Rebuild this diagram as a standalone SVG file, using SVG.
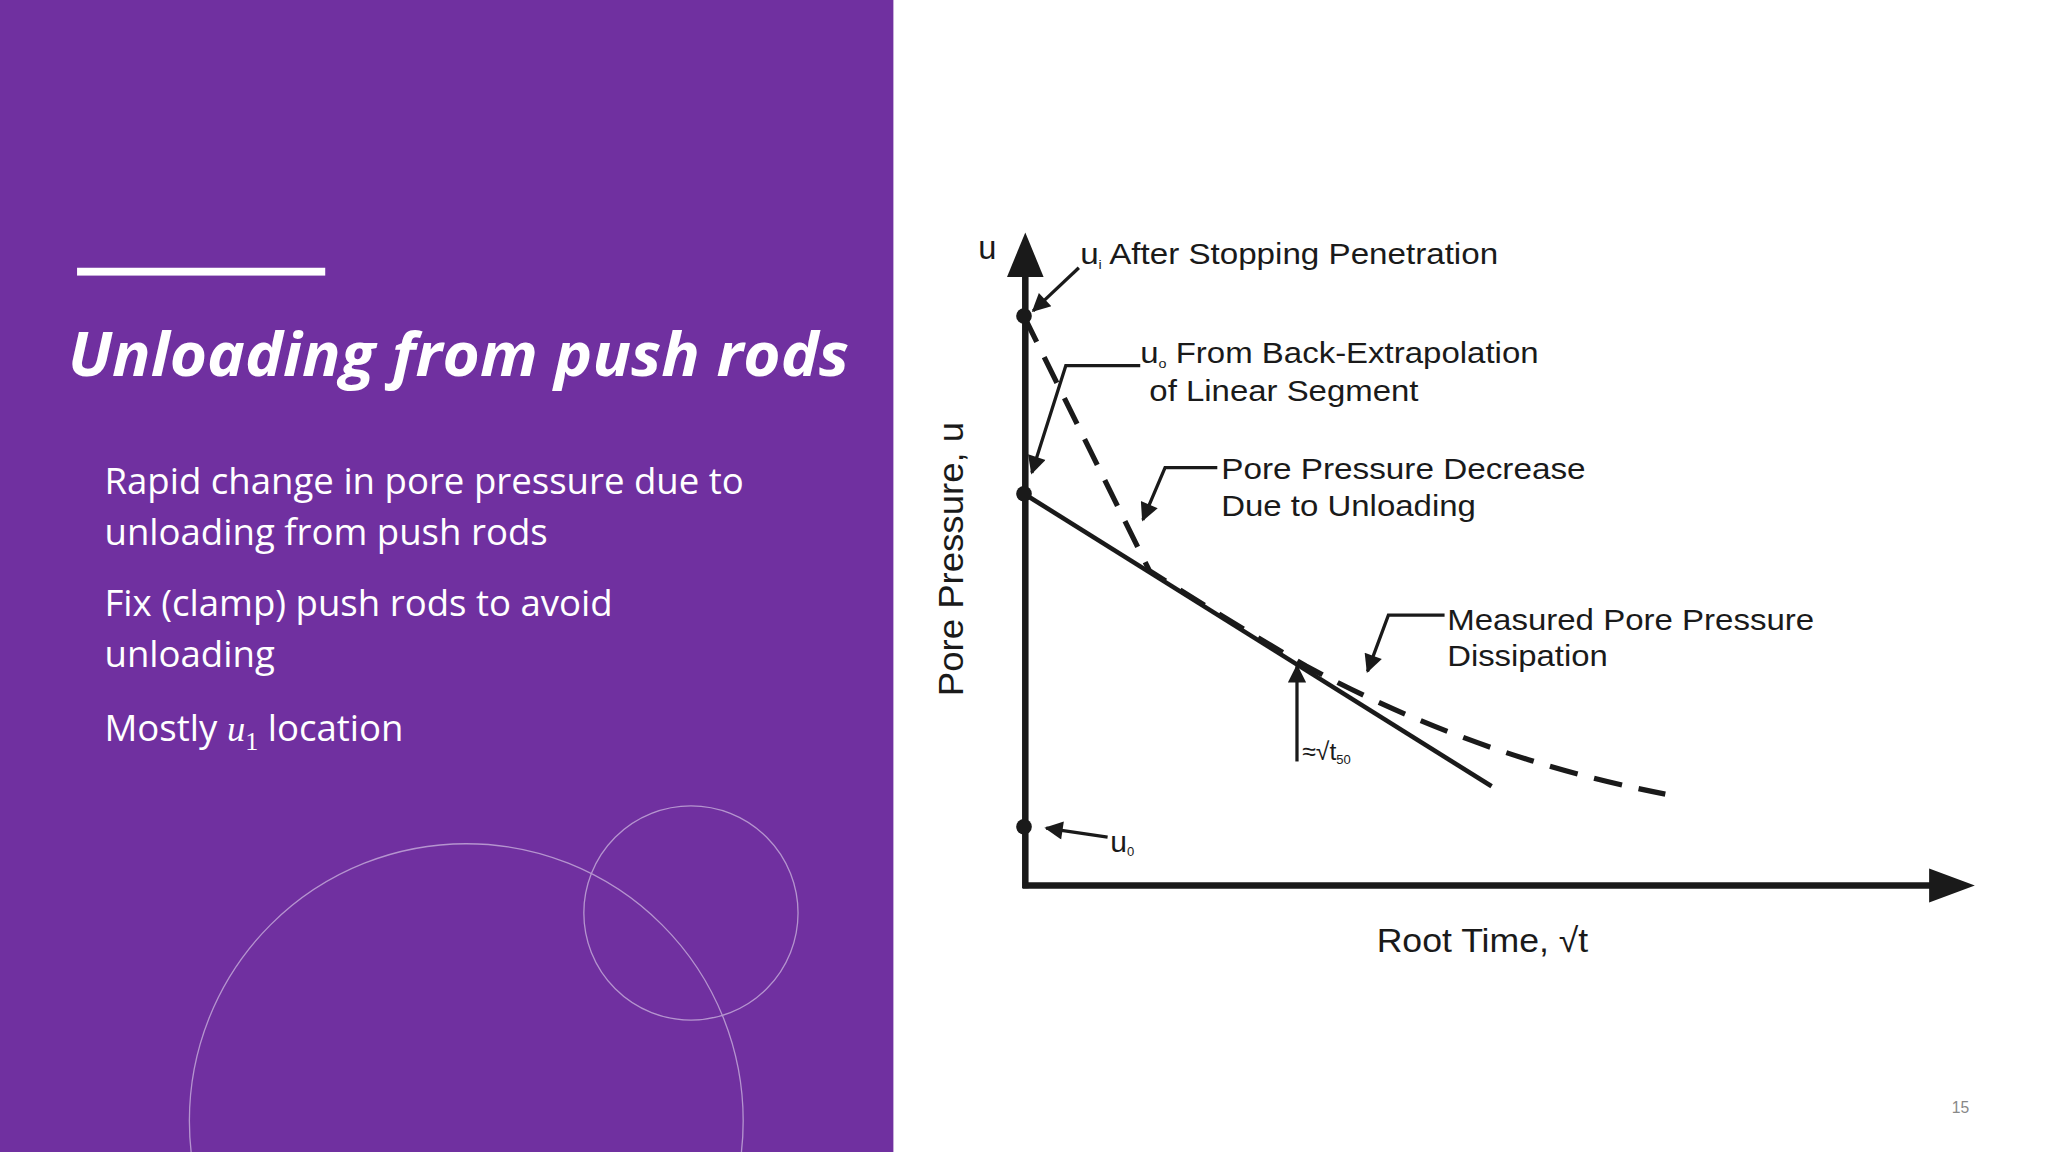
<svg xmlns="http://www.w3.org/2000/svg" width="2048" height="1152" viewBox="0 0 2048 1152">
<defs>
<style>
.g{font-family:"Liberation Sans",Arial,sans-serif;font-size:23px;fill:#1a1a1a}
.b{font-family:"Open Sans","Liberation Sans",sans-serif;font-size:28px;fill:#fff}
.ax{stroke:#1a1a1a;stroke-width:5;fill:none}
.ld{stroke:#1a1a1a;stroke-width:2.5;fill:none}
</style>
<marker id="ah" viewBox="0 0 10 10" refX="9" refY="5" markerWidth="18" markerHeight="14" orient="auto" markerUnits="userSpaceOnUse"><path d="M0,0L10,5L0,10z" fill="#1a1a1a"/></marker>
</defs>
<g transform="scale(1.30612)">
<g id="panel">
<rect x="0" y="0" width="684" height="882" fill="#7030A0"/>
<rect x="59" y="205" width="190" height="6" fill="#fff"/>
<text x="52" y="288" font-family="Open Sans,Liberation Sans,sans-serif" font-style="italic" font-weight="bold" font-size="46" fill="#fff" textLength="598" lengthAdjust="spacingAndGlyphs">Unloading from push rods</text>
<text class="b" x="80" y="378">Rapid change in pore pressure due to</text>
<text class="b" x="80" y="417">unloading from push rods</text>
<text class="b" x="80" y="472">Fix (clamp) push rods to avoid</text>
<text class="b" x="80" y="511">unloading</text>
<text class="b" x="80" y="567">Mostly <tspan font-family="Liberation Serif,serif" font-style="italic">u</tspan><tspan font-family="Liberation Serif,serif" style="font-size:20px" dy="7">1</tspan><tspan dy="-7"> location</tspan></text>
<circle cx="357" cy="858" r="212" fill="none" stroke="#b594cf" stroke-width="1"/>
<circle cx="529" cy="699" r="82" fill="none" stroke="#b594cf" stroke-width="1"/>
</g>
<text x="1501" y="852" font-family="Liberation Sans,sans-serif" font-size="12" fill="#888" text-anchor="middle">15</text>
<g id="connectors">
<line class="ax" x1="785" y1="680" x2="785" y2="205"/>
<path d="M785,178L771,212L799,212z" fill="#1a1a1a"/>
<line class="ax" x1="783" y1="678" x2="1480" y2="678"/>
<path d="M1512,678L1477,665L1477,691z" fill="#1a1a1a"/>
<line x1="784" y1="378" x2="1142" y2="602" stroke="#1a1a1a" stroke-width="3.5"/>
<path d="M784,242 L880,437 Q940,475 1000,510 Q1130,580 1275,608" fill="none" stroke="#1a1a1a" stroke-width="4" stroke-dasharray="22,13"/>
<path class="ld" d="M826,205 L791,238" marker-end="url(#ah)"/>
<path class="ld" d="M873,280 L816,280 L790,362" marker-end="url(#ah)"/>
<path class="ld" d="M932,358 L892,358 L875,398" marker-end="url(#ah)"/>
<path class="ld" d="M1106,471 L1063,471 L1047,514" marker-end="url(#ah)"/>
<path class="ld" d="M993,583 L993,510" marker-end="url(#ah)"/>
<path class="ld" d="M848,641 L801,634" marker-end="url(#ah)"/>
</g>
<g id="dots" fill="#1a1a1a">
<circle cx="784" cy="242" r="6"/>
<circle cx="784" cy="378" r="6"/>
<circle cx="784" cy="633" r="6"/>
</g>
<g id="labels">
<text class="g" x="749" y="198" style="font-size:25px">u</text>
<text class="g" x="827" y="202" textLength="320" lengthAdjust="spacingAndGlyphs">u<tspan style="font-size:10px" dy="4">i</tspan><tspan dy="-4"> After Stopping Penetration</tspan></text>
<text class="g" x="873" y="278" textLength="305" lengthAdjust="spacingAndGlyphs">u<tspan style="font-size:10px" dy="4">o</tspan><tspan dy="-4"> From Back-Extrapolation</tspan></text>
<text class="g" x="880" y="307" textLength="206" lengthAdjust="spacingAndGlyphs">of Linear Segment</text>
<text class="g" x="935" y="367" textLength="279" lengthAdjust="spacingAndGlyphs">Pore Pressure Decrease</text>
<text class="g" x="935" y="395" textLength="195" lengthAdjust="spacingAndGlyphs">Due to Unloading</text>
<text class="g" x="1108" y="482" textLength="281" lengthAdjust="spacingAndGlyphs">Measured Pore Pressure</text>
<text class="g" x="1108" y="510" textLength="123" lengthAdjust="spacingAndGlyphs">Dissipation</text>
<text class="g" x="997" y="582" style="font-size:19px">≈√t<tspan style="font-size:10px" dy="3">50</tspan></text>
<text class="g" x="850" y="652">u<tspan style="font-size:10px" dy="3">0</tspan></text>
<text class="g" x="1054" y="729" style="font-size:26px" textLength="162" lengthAdjust="spacingAndGlyphs">Root Time, √t</text>
<text class="g" transform="translate(737,428) rotate(-90)" text-anchor="middle" style="font-size:27px" textLength="210" lengthAdjust="spacingAndGlyphs">Pore Pressure, u</text>
</g>
</g>
</svg>
